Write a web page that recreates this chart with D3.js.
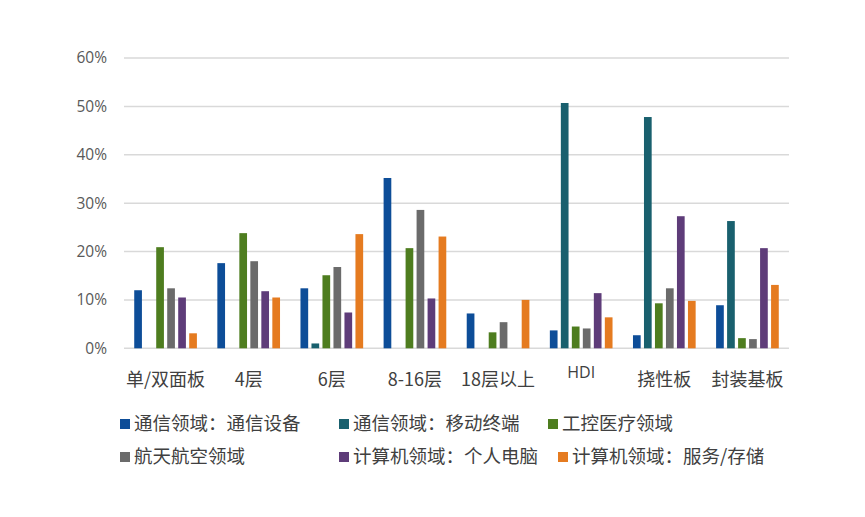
<!DOCTYPE html>
<html><head><meta charset="utf-8">
<script src="https://cdn.jsdelivr.net/npm/d3@7"></script>
<style>body{margin:0;background:#fff;}svg{display:block;}</style>
</head><body><svg id="chart" width="865" height="517"></svg>
<script>
const categories = ["单/双面板","4层","6层","8-16层","18层以上","HDI","挠性板","封装基板"];
const seriesNames = ["通信领域：通信设备","通信领域：移动终端","工控医疗领域","航天航空领域","计算机领域：个人电脑","计算机领域：服务/存储"];
const seriesColors = ["#0D4D98","#19606E","#4E7D1F","#6B6B6B","#5E3C79","#E57B20"];
const commEquipment = [12.0,17.6,12.4,35.2,7.2,3.7,2.7,8.9];
const commMobile    = [0,0,1.0,0,0,50.7,47.8,26.3];
const industrialMed = [20.9,23.8,15.1,20.7,3.3,4.5,9.3,2.1];
const aerospace     = [12.4,18.0,16.8,28.6,5.4,4.1,12.4,1.9];
const pcComputer    = [10.5,11.8,7.4,10.3,0,11.4,27.3,20.7];
const serverStorage = [3.1,10.5,23.6,23.1,10.0,6.4,9.8,13.1];
const seriesValues = [commEquipment,commMobile,industrialMed,aerospace,pcComputer,serverStorage];
const yTicks = [0,10,20,30,40,50,60];

const svg = d3.select("#chart");
const pLeft = 124, pRight = 789, pTop = 58, pBottom = 348.3;
const x0 = d3.scaleBand().domain(categories).range([pLeft,pRight]).padding(0);
const x1 = d3.scaleBand().domain(d3.range(seriesNames.length)).range([0,x0.bandwidth()]).paddingInner(0.3).paddingOuter(0.93);
const y = d3.scaleLinear().domain([0,60]).range([pBottom,pTop]);

// gridlines
svg.append("g").selectAll("line").data(yTicks).join("line")
  .attr("x1",pLeft).attr("x2",pRight)
  .attr("y1",d=>y(d)).attr("y2",d=>y(d))
  .attr("stroke","#d9d9d9").attr("stroke-width",1.5);

// y axis labels
const yAxis = d3.axisLeft(y).tickValues(yTicks).tickFormat(d=>d+"%").tickSize(0).tickPadding(0);
const ga = svg.append("g").attr("transform",`translate(107,0)`).call(yAxis);
ga.select(".domain").remove();
ga.selectAll("text").attr("font-family","'Open Sans','Noto Sans',sans-serif").attr("font-size",15.5).attr("fill","#595959");

// bars
const groups = svg.append("g").selectAll("g").data(categories).join("g")
  .attr("transform",d=>`translate(${x0(d)},0)`);
groups.selectAll("rect").data((c,ci)=>seriesValues.map((s,si)=>({si,v:s[ci]})))
  .join("rect")
  .attr("x",d=>x1(d.si)).attr("width",x1.bandwidth())
  .attr("y",d=>y(d.v)).attr("height",d=>pBottom-y(d.v))
  .attr("fill",d=>seriesColors[d.si]);

// category labels
const xAxis = d3.axisBottom(x0).tickSize(0).tickPadding(0);
const gx = svg.append("g").attr("transform",`translate(0,${pBottom})`).call(xAxis);
gx.select(".domain").remove();
gx.selectAll("text")
  .attr("dy",null).attr("y",d=>d==="HDI"?30:38)
  .attr("font-family",d=>d==="HDI"?"'Open Sans',sans-serif":"'Noto Sans CJK SC',sans-serif")
  .attr("font-size",d=>d==="HDI"?16:18).attr("fill","#404040");

// legend
const legPos = [[120,424],[339,424],[548,424],[120,457],[339,457],[558,457]];
const leg = svg.append("g").selectAll("g").data(seriesNames).join("g")
  .attr("transform",(d,i)=>`translate(${legPos[i][0]},${legPos[i][1]})`);
leg.append("rect").attr("x",0).attr("y",-5).attr("width",10).attr("height",10).attr("fill",(d,i)=>seriesColors[i]);
leg.append("text").attr("x",14).attr("y",0).attr("dy","0.35em")
  .attr("font-family","'Noto Sans CJK SC',sans-serif").attr("font-size",18.5).attr("fill","#404040")
  .text(d=>d);
</script></body></html>
